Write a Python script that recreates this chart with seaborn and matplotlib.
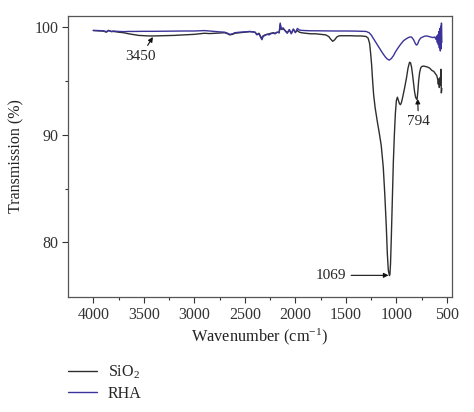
import numpy as np
import pandas as pd
import matplotlib
matplotlib.use("Agg")
import matplotlib.pyplot as plt
import seaborn as sns

sns.set_style("ticks")
plt.rcParams['font.family'] = ['Liberation Serif', 'DejaVu Serif']
plt.rcParams['mathtext.fontset'] = 'custom'
plt.rcParams['mathtext.rm'] = 'Liberation Serif'
plt.rcParams['mathtext.it'] = 'Liberation Serif:italic'

# FTIR spectra
sio2_wn = [4000, 3950, 3900, 3870, 3850, 3820, 3800, 3750, 3700, 3650,
           3600, 3550, 3500, 3450, 3400, 3300, 3200, 3100, 3000, 2950,
           2900, 2850, 2800, 2750, 2700, 2670, 2650, 2620, 2600, 2550,
           2500, 2450, 2400, 2380, 2360, 2340, 2330, 2320, 2300, 2280,
           2260, 2240, 2220, 2200, 2180, 2160, 2150, 2140, 2120, 2100,
           2080, 2060, 2040, 2020, 2000, 1980, 1960, 1940, 1900, 1850,
           1800, 1750, 1700, 1670, 1650, 1630, 1610, 1590, 1570, 1550,
           1500, 1450, 1400, 1350, 1300, 1280, 1265, 1255, 1245, 1235,
           1225, 1210, 1190, 1170, 1150, 1130, 1115, 1100, 1090, 1080,
           1072, 1069, 1064, 1058, 1050, 1040, 1030, 1020, 1010, 1000,
           990, 980, 970, 960, 950, 940, 920, 900, 885, 870,
           860, 850, 840, 830, 820, 810, 800, 794, 788, 780,
           770, 760, 750, 730, 710, 690, 670, 650, 630, 615,
           600, 590, 585, 580, 575, 570, 565, 560, 555, 550]
sio2_t = [99.70, 99.68, 99.65, 99.55, 99.70, 99.60, 99.62, 99.55, 99.50, 99.40,
          99.32, 99.25, 99.22, 99.20, 99.20, 99.22, 99.25, 99.30, 99.35, 99.40,
          99.45, 99.42, 99.45, 99.48, 99.50, 99.40, 99.30, 99.35, 99.45, 99.50,
          99.55, 99.60, 99.55, 99.35, 99.45, 99.10, 98.95, 99.20, 99.30, 99.35,
          99.40, 99.45, 99.50, 99.45, 99.55, 99.50, 100.25, 99.80, 99.85, 99.70,
          99.50, 99.75, 99.45, 99.80, 99.55, 99.70, 99.55, 99.50, 99.45, 99.40,
          99.40, 99.35, 99.30, 99.15, 98.90, 98.70, 98.85, 99.10, 99.20, 99.22,
          99.22, 99.22, 99.20, 99.20, 99.15, 99.00, 98.50, 97.60, 96.50, 95.00,
          93.70, 92.50, 91.30, 90.20, 89.00, 87.00, 84.50, 81.50, 79.00, 77.40,
          77.00, 76.90, 77.00, 78.00, 80.50, 84.00, 87.50, 90.00, 92.00, 93.20,
          93.50, 93.20, 92.90, 92.80, 93.00, 93.40, 94.30, 95.30, 96.20, 96.75,
          96.70, 96.30, 95.60, 94.80, 94.00, 93.50, 93.30, 93.40, 94.00, 95.00,
          95.80, 96.20, 96.35, 96.40, 96.35, 96.30, 96.20, 96.00, 95.90, 95.70,
          95.50, 95.10, 94.70, 95.20, 94.40, 95.30, 94.60, 96.10, 93.90, 94.30]

rha_wn = [4000, 3950, 3900, 3870, 3850, 3820, 3800, 3750, 3700, 3650,
          3600, 3500, 3400, 3300, 3200, 3100, 3000, 2950, 2900, 2850,
          2800, 2750, 2700, 2670, 2650, 2620, 2600, 2550, 2500, 2450,
          2400, 2380, 2360, 2340, 2330, 2320, 2300, 2280, 2260, 2240,
          2220, 2200, 2180, 2160, 2150, 2140, 2120, 2100, 2080, 2060,
          2040, 2020, 2000, 1980, 1960, 1940, 1900, 1850, 1800, 1700,
          1600, 1500, 1400, 1300, 1270, 1250, 1230, 1200, 1170, 1140,
          1110, 1090, 1070, 1050, 1030, 1010, 990, 960, 930, 900,
          870, 850, 830, 810, 800, 790, 775, 760, 740, 720,
          700, 680, 660, 640, 620, 610, 600, 595, 590, 585,
          580, 575, 570, 565, 560, 557, 554, 550]
rha_t = [99.72, 99.70, 99.68, 99.60, 99.72, 99.62, 99.66, 99.62, 99.60, 99.62,
         99.62, 99.63, 99.63, 99.64, 99.65, 99.66, 99.66, 99.68, 99.70, 99.66,
         99.62, 99.58, 99.55, 99.45, 99.35, 99.40, 99.50, 99.55, 99.58, 99.62,
         99.55, 99.30, 99.40, 99.00, 98.85, 99.15, 99.25, 99.35, 99.30, 99.42,
         99.45, 99.40, 99.55, 99.50, 100.40, 99.90, 99.95, 99.65, 99.45, 99.80,
         99.40, 99.85, 99.50, 99.90, 99.75, 99.72, 99.70, 99.68, 99.68, 99.67,
         99.66, 99.66, 99.65, 99.62, 99.50, 99.30, 99.00, 98.55, 98.10, 97.65,
         97.25, 97.05, 96.95, 97.10, 97.35, 97.70, 98.00, 98.40, 98.75, 98.95,
         99.10, 99.10, 98.85, 98.45, 98.35, 98.45, 98.80, 99.00, 99.10, 99.18,
         99.20, 99.15, 99.10, 99.05, 99.10, 98.90, 99.20, 98.60, 99.30, 98.40,
         99.60, 98.10, 99.90, 97.80, 100.10, 98.00, 100.40, 98.60]

sio2_label = "SiO$_2$"
rha_label = "RHA"
colors = {sio2_label: "#2e2e2e", rha_label: "#3b3399"}

df = pd.concat([
    pd.DataFrame({"wn": sio2_wn, "T": sio2_t, "sample": sio2_label}),
    pd.DataFrame({"wn": rha_wn, "T": rha_t, "sample": rha_label}),
], ignore_index=True)

fig = plt.figure(figsize=(4.74, 4.12), dpi=100)
ax = fig.add_axes([0.1435, 0.279, 0.81, 0.682])

sns.lineplot(data=df, x="wn", y="T", hue="sample", palette=colors,
             sort=False, estimator=None, linewidth=1.0, ax=ax, legend=False)

ax.set_xlim(4250, 450)
ax.set_ylim(74.9, 101.05)
ax.set_xticks([4000, 3500, 3000, 2500, 2000, 1500, 1000, 500])
ax.set_xticks(np.arange(750, 4250, 500), minor=True)
ax.set_yticks([80, 90, 100])
ax.set_yticks([85, 95], minor=True)
ax.tick_params(axis="both", which="major", direction="out", length=4,
               width=0.8, labelsize=11.5, colors="#333333", pad=3)
ax.tick_params(axis="both", which="minor", direction="out", length=2.5,
               width=0.8, colors="#333333")
for sp in ax.spines.values():
    sp.set_color("#555555")
    sp.set_linewidth(0.9)

ax.set_xlabel("Wavenumber (cm$^{-1}$)", fontsize=11.8, color="#222222", labelpad=3)
ax.set_ylabel("Transmission (%)", fontsize=11.5, color="#222222", labelpad=7)

arrow = dict(arrowstyle="-|>", color="#111111", lw=0.8, mutation_scale=7,
             shrinkA=1, shrinkB=0)
ax.annotate("3450", xy=(3410, 99.1), xytext=(3530, 97.3), fontsize=11,
            ha="center", va="center", arrowprops=arrow)
ax.annotate("1069", xy=(1078, 76.92), xytext=(1645, 76.92), fontsize=11,
            ha="center", va="center", arrowprops=arrow)
ax.annotate("794", xy=(790, 93.35), xytext=(780, 91.2), fontsize=11,
            ha="center", va="center", arrowprops=arrow)

handles = [plt.Line2D([], [], color=colors[k], lw=1.0) for k in (sio2_label, rha_label)]
fig.legend(handles, [sio2_label, rha_label], loc="upper left",
           bbox_to_anchor=(0.12, 0.145), frameon=False, fontsize=11.5,
           handlelength=1.8, handletextpad=0.7, labelspacing=0.3,
           borderpad=0.2)

fig.savefig("out.png", dpi=100)
